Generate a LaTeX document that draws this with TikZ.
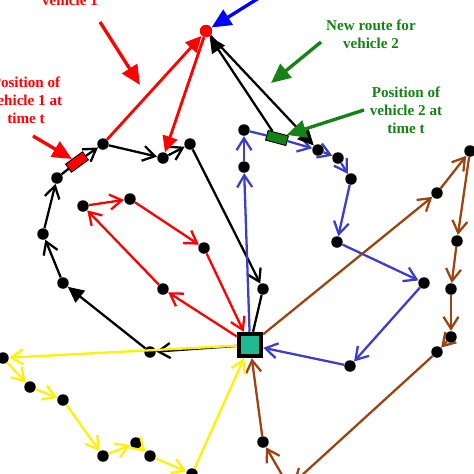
\documentclass[tikz,border=0pt]{standalone}
\usepackage{fontspec}
\setmainfont{Liberation Serif}
\usetikzlibrary{arrows.meta}
\definecolor{vblue}{RGB}{60,60,205}
\definecolor{vbrown}{RGB}{155,68,18}
\definecolor{vyellow}{RGB}{255,242,0}
\definecolor{vgreen}{RGB}{20,130,20}
\definecolor{vteal}{RGB}{30,185,145}

\begin{document}
\begin{tikzpicture}[
	x=0.02cm,
	y=-0.02cm,
	stop/.style={
		circle,
		fill=black,
		inner sep=0pt,
		minimum size=2.3mm
	},
	depot/.style={
		rectangle,
		draw=black,
		line width=0.9mm,
		fill=vteal,
		inner sep=0pt,
		minimum size=4.4mm
	},
	veh/.style={
		rectangle,
		draw=black,
		line width=0.5pt,
		inner sep=0pt,
		minimum width=4.2mm,
		minimum height=2mm
	},
	route/.style={
		line width=1.3pt,
		-{Straight Barb[length=2.4mm,width=3mm]}
	},
	newroute/.style={
		line width=1.3pt,
		-{Triangle[length=3.2mm,width=3mm]}
	},
	pointer/.style={
		line width=1.9pt,
		-{Triangle[length=3.9mm,width=3.5mm]}
	},
	note/.style={
		font=\bfseries\fontsize{8.6}{10.2}\selectfont,
		align=center
	}]

	\clip (0,0) rectangle (474,474);

	% depot
	\node[depot] (d) at (250,345) {};

	% vehicle 1, black route
	\node[stop] (k_1) at (150,352) {};
	\node[stop] (k_2) at (63,283) {};
	\node[stop] (k_3) at (43,234) {};
	\node[stop] (k_4) at (57,178) {};
	\node[veh, fill=red, rotate=36] (v_1) at (77,162) {};
	\node[stop] (k_5) at (103,144) {};
	\node[stop] (k_6) at (163,158) {};
	\node[stop] (k_7) at (190,144) {};
	\node[stop] (k_8) at (263,289) {};

	% new customer
	\node[circle, fill=red, inner sep=0pt, minimum size=2.5mm] (c) at (206,31) {};

	% red route
	\node[stop] (r_1) at (83,206) {};
	\node[stop] (r_2) at (130,199) {};
	\node[stop] (r_3) at (204,248) {};
	\node[stop] (r_4) at (163,289) {};

	% vehicle 2, blue route
	\node[stop] (b_1) at (244,130) {};
	\node[stop] (b_2) at (244,167) {};
	\node[veh, fill=vgreen, rotate=-15] (v_2) at (277,138) {};
	\node[stop] (b_3) at (318,150) {};
	\node[stop] (b_4) at (338,158) {};
	\node[stop] (b_5) at (351,179) {};
	\node[stop] (b_6) at (337,242) {};
	\node[stop] (b_7) at (424,283) {};
	\node[stop] (b_8) at (350,366) {};

	% brown route
	\node[stop] (n_1) at (437,193) {};
	\node[stop] (n_2) at (470,151) {};
	\node[stop] (n_3) at (457,241) {};
	\node[stop] (n_4) at (451,289) {};
	\node[stop] (n_5) at (451,337) {};
	\node[stop] (n_6) at (437,352) {};
	\node[stop] (n_7) at (289,487) {};
	\node[stop] (n_8) at (263,442) {};

	% yellow route
	\node[stop] (y_1) at (3,358) {};
	\node[stop] (y_2) at (30,387) {};
	\node[stop] (y_3) at (63,400) {};
	\node[stop] (y_4) at (103,456) {};
	\node[stop] (y_5) at (136,443) {};
	\node[stop] (y_6) at (150,456) {};
	\node[stop] (y_7) at (192,474) {};

	\path[route]
	 (d) edge (k_1)
	 (k_2) edge (k_3)
	 (k_3) edge (k_4)
	 (v_1) edge (k_5)
	 (k_5) edge (k_6)
	 (k_6) edge (k_7)
	 (k_7) edge (k_8);
	\path[line width=1.3pt]
	 (k_4) edge (v_1)
	 (k_8) edge (d);
	\path[newroute] (k_1) edge (k_2);

	\path[route, red]
	 (r_1) edge (r_2)
	 (r_2) edge (r_3)
	 (r_3) edge (d)
	 (d) edge (r_4)
	 (r_4) edge (r_1);

	\path[route, vblue]
	 (d) edge (b_2)
	 (b_2) edge (b_1)
	 (v_2) edge (b_3)
	 (b_3) edge (b_4)
	 (b_4) edge (b_5)
	 (b_5) edge (b_6)
	 (b_6) edge (b_7)
	 (b_7) edge (b_8)
	 (b_8) edge (d);
	\path[line width=1.3pt, vblue] (b_1) edge (v_2);

	\path[route, vbrown]
	 (d) edge (n_1)
	 (n_1) edge (n_2)
	 (n_2) edge (n_3)
	 (n_3) edge (n_4)
	 (n_4) edge (n_5)
	 (n_5) edge (n_6)
	 (n_6) edge (n_7)
	 (n_7) edge (n_8)
	 (n_8) edge (d);

	\path[route, vyellow]
	 (d) edge (y_1)
	 (y_1) edge (y_2)
	 (y_2) edge (y_3)
	 (y_3) edge (y_4)
	 (y_4) edge (y_5)
	 (y_5) edge (y_6)
	 (y_6) edge (y_7)
	 (y_7) edge (d);

	% new routes
	\path[newroute, red, line width=1.6pt]
	 (k_5) edge (c)
	 (c) edge (k_6);
	\path[newroute]
	 (v_2) edge (c)
	 (c) edge (b_3);

	% labels
	\node[note, red] (t_1) at (70,0) {vehicle 1};
	\node[note, red] (t_2) at (26,100) {Position of\\vehicle 1 at\\time t};
	\node[note, vgreen] (t_3) at (371,34) {New route for\\vehicle 2};
	\node[note, vgreen] (t_4) at (406,110) {Position of\\vehicle 2 at\\time t};

	\coordinate (p_1) at (100,22);
	\coordinate (q_1) at (140,85);
	\coordinate (p_2) at (33,136);
	\coordinate (p_3) at (321,42);
	\coordinate (q_3) at (271,83);
	\coordinate (p_4) at (364,110);
	\coordinate (p_5) at (262,-4);

	\draw[pointer, red] (p_1) -- (q_1);
	\draw[pointer, red] (p_2) -- (v_1);
	\draw[pointer, vgreen] (p_3) -- (q_3);
	\draw[pointer, vgreen] (p_4) -- (v_2);
	\draw[pointer, blue] (p_5) -- (c);
\end{tikzpicture}
\end{document}
